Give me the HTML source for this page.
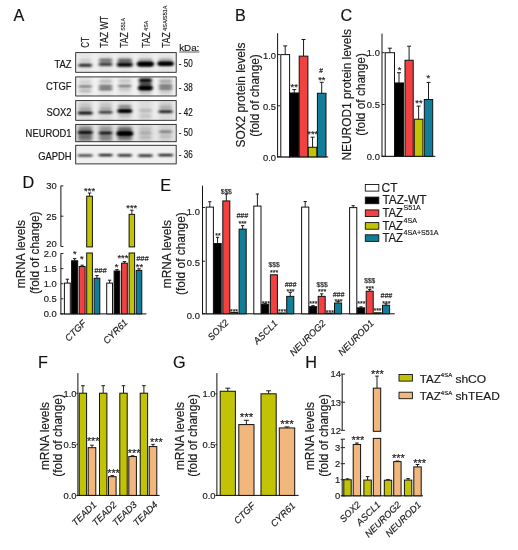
<!DOCTYPE html>
<html lang="en"><head><meta charset="utf-8"><title>Figure</title>
<style>
html,body{margin:0;padding:0;background:#fff;}
body{width:518px;height:550px;overflow:hidden;}
svg{display:block;font-family:"Liberation Sans",Arial,sans-serif;}
text{stroke:#222;stroke-width:0.18px;}
</style></head><body>
<svg width="518" height="550" viewBox="0 0 518 550">
<defs>
<filter id="b1" x="-30%" y="-100%" width="160%" height="300%"><feGaussianBlur stdDeviation="1.5 0.95"/></filter>
<filter id="b3" x="-30%" y="-150%" width="160%" height="400%"><feGaussianBlur stdDeviation="1.2 0.65"/></filter>
<filter id="b4" x="-30%" y="-150%" width="160%" height="400%"><feGaussianBlur stdDeviation="1.35 0.8"/></filter>
<filter id="b2" x="-30%" y="-100%" width="160%" height="300%"><feGaussianBlur stdDeviation="2 1.5"/></filter>
</defs>
<rect width="518" height="550" fill="#fff"/>

<text x="13.6" y="21.2" font-size="16.2" text-anchor="start" fill="#111" >A</text>
<text x="235" y="21" font-size="16.2" text-anchor="start" fill="#111" >B</text>
<text x="340.5" y="21.2" font-size="16.2" text-anchor="start" fill="#111" >C</text>
<text x="22.5" y="188" font-size="16.2" text-anchor="start" fill="#111" >D</text>
<text x="160.3" y="191" font-size="16.2" text-anchor="start" fill="#111" >E</text>
<text x="38" y="367.8" font-size="16.2" text-anchor="start" fill="#111" >F</text>
<text x="173" y="368" font-size="16.2" text-anchor="start" fill="#111" >G</text>
<text x="305.3" y="367.8" font-size="16.2" text-anchor="start" fill="#111" >H</text>
<clipPath id="c0"><rect x="75.7" y="52.6" width="100.5" height="19.7"/></clipPath>
<rect x="75.7" y="52.6" width="100.5" height="19.7" fill="#efefef"/>
<g clip-path="url(#c0)">
<rect x="78.7" y="50.6" width="13" height="23.7" fill="#000" opacity="0.04" filter="url(#b2)"/>
<rect x="99.1" y="50.6" width="13" height="23.7" fill="#000" opacity="0.04" filter="url(#b2)"/>
<rect x="118.3" y="50.6" width="13" height="23.7" fill="#000" opacity="0.04" filter="url(#b2)"/>
<rect x="138.9" y="50.6" width="13" height="23.7" fill="#000" opacity="0.04" filter="url(#b2)"/>
<rect x="159.1" y="50.6" width="13" height="23.7" fill="#000" opacity="0.04" filter="url(#b2)"/>
<rect x="78.4" y="63.65" width="13.6" height="3.1" rx="1.55" fill="#050505" opacity="0.88" filter="url(#b1)"/>
<rect x="79.2" y="59.15" width="12" height="2.5" rx="1.25" fill="#050505" opacity="0.12" filter="url(#b1)"/>
<rect x="99" y="58.45" width="13.2" height="2.9" rx="1.45" fill="#050505" opacity="0.5" filter="url(#b1)"/>
<rect x="98.8" y="62.85" width="13.6" height="3.1" rx="1.55" fill="#050505" opacity="0.75" filter="url(#b1)"/>
<rect x="99.2" y="60.25" width="12.8" height="3.5" rx="1.75" fill="#050505" opacity="0.25" filter="url(#b1)"/>
<rect x="117.6" y="58.55" width="14.4" height="3.1" rx="1.55" fill="#050505" opacity="0.55" filter="url(#b1)"/>
<rect x="116.8" y="62.75" width="16" height="4.1" rx="2.05" fill="#050505" opacity="1" filter="url(#b1)"/>
<rect x="117.8" y="60.65" width="14" height="3.5" rx="1.75" fill="#050505" opacity="0.35" filter="url(#b1)"/>
<rect x="137" y="61.75" width="16.8" height="4.7" rx="2.35" fill="#050505" opacity="1" filter="url(#b1)"/>
<rect x="137.8" y="62.35" width="15.2" height="3.5" rx="1.75" fill="#050505" opacity="0.9" filter="url(#b1)"/>
<rect x="138.4" y="58.75" width="14" height="2.5" rx="1.25" fill="#050505" opacity="0.35" filter="url(#b1)"/>
<rect x="157.6" y="61.55" width="16" height="4.3" rx="2.15" fill="#050505" opacity="1" filter="url(#b1)"/>
<rect x="158.4" y="62.15" width="14.4" height="3.1" rx="1.55" fill="#050505" opacity="0.9" filter="url(#b1)"/>
<rect x="158.6" y="58.55" width="14" height="2.5" rx="1.25" fill="#050505" opacity="0.3" filter="url(#b1)"/>
</g>
<rect x="75.7" y="52.6" width="100.5" height="19.7" fill="none" stroke="#222" stroke-width="0.9"/>
<text transform="translate(71.5 67.55) scale(1 1.07)" font-size="9.4" text-anchor="end" fill="#111">TAZ</text>
<text transform="translate(178.8 66.7) scale(1 1.07)" font-size="9.4" fill="#111" textLength="13.9" lengthAdjust="spacingAndGlyphs">- 50</text>
<clipPath id="c1"><rect x="75.7" y="76.9" width="100.5" height="19.1"/></clipPath>
<rect x="75.7" y="76.9" width="100.5" height="19.1" fill="#f1f1f1"/>
<g clip-path="url(#c1)">
<rect x="78.7" y="74.9" width="13" height="23.1" fill="#000" opacity="0.05" filter="url(#b2)"/>
<rect x="99.1" y="74.9" width="13" height="23.1" fill="#000" opacity="0.05" filter="url(#b2)"/>
<rect x="118.3" y="74.9" width="13" height="23.1" fill="#000" opacity="0.05" filter="url(#b2)"/>
<rect x="138.9" y="74.9" width="13" height="23.1" fill="#000" opacity="0.05" filter="url(#b2)"/>
<rect x="159.1" y="74.9" width="13" height="23.1" fill="#000" opacity="0.05" filter="url(#b2)"/>
<rect x="78.6" y="85.6" width="13.2" height="1.8" rx="0.9" fill="#050505" opacity="0.6" filter="url(#b4)"/>
<rect x="79.2" y="89.9" width="12" height="1.8" rx="0.9" fill="#050505" opacity="0.3" filter="url(#b4)"/>
<rect x="79.2" y="80.75" width="12" height="2.5" rx="1.25" fill="#050505" opacity="0.1" filter="url(#b1)"/>
<rect x="99.4" y="80.05" width="12.4" height="2.7" rx="1.35" fill="#050505" opacity="0.2" filter="url(#b1)"/>
<rect x="98.8" y="85" width="13.6" height="2" rx="1" fill="#050505" opacity="0.5" filter="url(#b4)"/>
<rect x="98.8" y="88.2" width="13.6" height="2" rx="1" fill="#050505" opacity="0.58" filter="url(#b4)"/>
<rect x="99.2" y="85.85" width="12.8" height="3.5" rx="1.75" fill="#050505" opacity="0.2" filter="url(#b1)"/>
<rect x="118.6" y="79.85" width="12.4" height="2.7" rx="1.35" fill="#050505" opacity="0.15" filter="url(#b1)"/>
<rect x="118.2" y="85" width="13.2" height="2" rx="1" fill="#050505" opacity="0.58" filter="url(#b4)"/>
<rect x="118.8" y="88.35" width="12" height="2.5" rx="1.25" fill="#050505" opacity="0.15" filter="url(#b1)"/>
<rect x="138.8" y="78.15" width="13.2" height="4.5" rx="2.25" fill="#050505" opacity="0.95" filter="url(#b1)"/>
<rect x="138.2" y="85.65" width="14.4" height="4.7" rx="2.35" fill="#050505" opacity="1" filter="url(#b1)"/>
<rect x="138.8" y="86.25" width="13.2" height="3.5" rx="1.75" fill="#050505" opacity="0.9" filter="url(#b1)"/>
<rect x="139.2" y="82.45" width="12.4" height="3.5" rx="1.75" fill="#050505" opacity="0.7" filter="url(#b1)"/>
<rect x="139.4" y="91.35" width="12" height="2.5" rx="1.25" fill="#050505" opacity="0.2" filter="url(#b1)"/>
<rect x="159.2" y="79.75" width="12.8" height="2.9" rx="1.45" fill="#050505" opacity="0.3" filter="url(#b1)"/>
<rect x="158.8" y="84.4" width="13.6" height="2" rx="1" fill="#050505" opacity="0.55" filter="url(#b4)"/>
<rect x="158.8" y="87.8" width="13.6" height="2" rx="1" fill="#050505" opacity="0.55" filter="url(#b4)"/>
<rect x="159.2" y="85.25" width="12.8" height="3.5" rx="1.75" fill="#050505" opacity="0.2" filter="url(#b1)"/>
<rect x="159.6" y="90.75" width="12" height="2.5" rx="1.25" fill="#050505" opacity="0.12" filter="url(#b1)"/>
</g>
<rect x="75.7" y="76.9" width="100.5" height="19.1" fill="none" stroke="#222" stroke-width="0.9"/>
<text transform="translate(71.5 90.2) scale(1 1.07)" font-size="9.4" text-anchor="end" fill="#111">CTGF</text>
<text transform="translate(178.8 90.6) scale(1 1.07)" font-size="9.4" fill="#111" textLength="13.9" lengthAdjust="spacingAndGlyphs">- 38</text>
<clipPath id="c2"><rect x="75.7" y="100.6" width="100.5" height="19.7"/></clipPath>
<rect x="75.7" y="100.6" width="100.5" height="19.7" fill="#ececec"/>
<g clip-path="url(#c2)">
<rect x="78.7" y="98.6" width="13" height="23.7" fill="#000" opacity="0.07" filter="url(#b2)"/>
<rect x="99.1" y="98.6" width="13" height="23.7" fill="#000" opacity="0.07" filter="url(#b2)"/>
<rect x="118.3" y="98.6" width="13" height="23.7" fill="#000" opacity="0.07" filter="url(#b2)"/>
<rect x="138.9" y="98.6" width="13" height="23.7" fill="#000" opacity="0.07" filter="url(#b2)"/>
<rect x="159.1" y="98.6" width="13" height="23.7" fill="#000" opacity="0.07" filter="url(#b2)"/>
<rect x="77.8" y="111.6" width="14.8" height="3" rx="1.5" fill="#050505" opacity="1" filter="url(#b4)"/>
<rect x="78.6" y="107.45" width="13.2" height="2.7" rx="1.35" fill="#050505" opacity="0.3" filter="url(#b1)"/>
<rect x="78.8" y="103.55" width="12.8" height="2.9" rx="1.45" fill="#050505" opacity="0.12" filter="url(#b1)"/>
<rect x="98.8" y="111.05" width="13.6" height="2.5" rx="1.25" fill="#050505" opacity="0.85" filter="url(#b4)"/>
<rect x="99.4" y="107.25" width="12.4" height="2.7" rx="1.35" fill="#050505" opacity="0.28" filter="url(#b1)"/>
<rect x="99.4" y="103.35" width="12.4" height="2.9" rx="1.45" fill="#050505" opacity="0.12" filter="url(#b1)"/>
<rect x="117.4" y="109.05" width="14.8" height="3.9" rx="1.95" fill="#050505" opacity="1" filter="url(#b1)"/>
<rect x="118.4" y="109.75" width="12.8" height="2.5" rx="1.25" fill="#050505" opacity="0.5" filter="url(#b1)"/>
<rect x="118.2" y="105.05" width="13.2" height="3.1" rx="1.55" fill="#050505" opacity="0.4" filter="url(#b1)"/>
<rect x="118.4" y="114.15" width="12.8" height="2.9" rx="1.45" fill="#050505" opacity="0.15" filter="url(#b1)"/>
<rect x="139" y="108.85" width="12.8" height="3.5" rx="1.75" fill="#050505" opacity="0.16" filter="url(#b1)"/>
<rect x="139.4" y="114.25" width="12" height="3.5" rx="1.75" fill="#050505" opacity="0.1" filter="url(#b1)"/>
<rect x="158.6" y="110.3" width="14" height="2.8" rx="1.4" fill="#050505" opacity="0.92" filter="url(#b4)"/>
<rect x="159.2" y="106.25" width="12.8" height="2.7" rx="1.35" fill="#050505" opacity="0.25" filter="url(#b1)"/>
<rect x="159.4" y="103.25" width="12.4" height="2.7" rx="1.35" fill="#050505" opacity="0.1" filter="url(#b1)"/>
</g>
<rect x="75.7" y="100.6" width="100.5" height="19.7" fill="none" stroke="#222" stroke-width="0.9"/>
<text transform="translate(71.5 115.7) scale(1 1.07)" font-size="9.4" text-anchor="end" fill="#111">SOX2</text>
<text transform="translate(178.8 115.5) scale(1 1.07)" font-size="9.4" fill="#111" textLength="13.9" lengthAdjust="spacingAndGlyphs">- 42</text>
<clipPath id="c3"><rect x="75.7" y="124.4" width="100.5" height="17.3"/></clipPath>
<rect x="75.7" y="124.4" width="100.5" height="17.3" fill="#e4e4e4"/>
<g clip-path="url(#c3)">
<rect x="78.7" y="122.4" width="13" height="21.3" fill="#000" opacity="0.16" filter="url(#b2)"/>
<rect x="99.1" y="122.4" width="13" height="21.3" fill="#000" opacity="0.16" filter="url(#b2)"/>
<rect x="118.3" y="122.4" width="13" height="21.3" fill="#000" opacity="0.16" filter="url(#b2)"/>
<rect x="138.9" y="122.4" width="13" height="21.3" fill="#000" opacity="0.07" filter="url(#b2)"/>
<rect x="159.1" y="122.4" width="13" height="21.3" fill="#000" opacity="0.07" filter="url(#b2)"/>
<rect x="77.6" y="130.55" width="15.2" height="3.9" rx="1.95" fill="#050505" opacity="0.95" filter="url(#b1)"/>
<rect x="78" y="135.35" width="14.4" height="2.9" rx="1.45" fill="#050505" opacity="0.5" filter="url(#b1)"/>
<rect x="78.2" y="138.35" width="14" height="2.5" rx="1.25" fill="#050505" opacity="0.35" filter="url(#b1)"/>
<rect x="78.2" y="126.95" width="14" height="2.9" rx="1.45" fill="#050505" opacity="0.35" filter="url(#b1)"/>
<rect x="98.8" y="131.35" width="13.6" height="3.5" rx="1.75" fill="#050505" opacity="0.9" filter="url(#b1)"/>
<rect x="99" y="135.55" width="13.2" height="2.9" rx="1.45" fill="#050505" opacity="0.35" filter="url(#b1)"/>
<rect x="99.2" y="138.35" width="12.8" height="2.5" rx="1.25" fill="#050505" opacity="0.25" filter="url(#b1)"/>
<rect x="99.2" y="127.15" width="12.8" height="2.9" rx="1.45" fill="#050505" opacity="0.25" filter="url(#b1)"/>
<rect x="116.6" y="130.95" width="16.4" height="5.1" rx="2.55" fill="#050505" opacity="1" filter="url(#b1)"/>
<rect x="117.6" y="131.75" width="14.4" height="3.5" rx="1.75" fill="#050505" opacity="0.9" filter="url(#b1)"/>
<rect x="117.4" y="127.45" width="14.8" height="3.1" rx="1.55" fill="#050505" opacity="0.55" filter="url(#b1)"/>
<rect x="117.4" y="136.45" width="14.8" height="3.1" rx="1.55" fill="#050505" opacity="0.5" filter="url(#b1)"/>
<rect x="139.2" y="131.45" width="12.4" height="3.1" rx="1.55" fill="#050505" opacity="0.22" filter="url(#b1)"/>
<rect x="139.2" y="135.95" width="12.4" height="2.9" rx="1.45" fill="#050505" opacity="0.14" filter="url(#b1)"/>
<rect x="139.4" y="127.55" width="12" height="2.9" rx="1.45" fill="#050505" opacity="0.1" filter="url(#b1)"/>
<rect x="159.2" y="130.55" width="12.8" height="2.5" rx="1.25" fill="#050505" opacity="0.45" filter="url(#b1)"/>
<rect x="159.4" y="134.95" width="12.4" height="2.9" rx="1.45" fill="#050505" opacity="0.12" filter="url(#b1)"/>
</g>
<rect x="75.7" y="124.4" width="100.5" height="17.3" fill="none" stroke="#222" stroke-width="0.9"/>
<text transform="translate(71.5 137.4) scale(1 1.07)" font-size="9.4" text-anchor="end" fill="#111">NEUROD1</text>
<text transform="translate(178.8 135.7) scale(1 1.07)" font-size="9.4" fill="#111" textLength="13.9" lengthAdjust="spacingAndGlyphs">- 50</text>
<clipPath id="c4"><rect x="75.7" y="145.3" width="100.5" height="18.6"/></clipPath>
<rect x="75.7" y="145.3" width="100.5" height="18.6" fill="#f0f0f0"/>
<g clip-path="url(#c4)">
<rect x="77.8" y="154.55" width="14.8" height="1.9" rx="0.95" fill="#050505" opacity="0.92" filter="url(#b4)"/>
<rect x="98.6" y="154" width="14" height="2.2" rx="1.1" fill="#050505" opacity="0.97" filter="url(#b4)"/>
<rect x="117.6" y="154.2" width="14.4" height="2.2" rx="1.1" fill="#050505" opacity="0.97" filter="url(#b4)"/>
<rect x="138.2" y="154.6" width="14.4" height="2.2" rx="1.1" fill="#050505" opacity="0.97" filter="url(#b4)"/>
<rect x="158.2" y="154" width="14.8" height="2.2" rx="1.1" fill="#050505" opacity="0.97" filter="url(#b4)"/>
</g>
<rect x="75.7" y="145.3" width="100.5" height="18.6" fill="none" stroke="#222" stroke-width="0.9"/>
<text transform="translate(71.5 159.5) scale(1 1.07)" font-size="9.4" text-anchor="end" fill="#111">GAPDH</text>
<text transform="translate(178.8 157.9) scale(1 1.07)" font-size="9.4" fill="#111" textLength="13.9" lengthAdjust="spacingAndGlyphs">- 36</text>
<text x="179.2" y="51" font-size="9.8" text-anchor="start" fill="#1a1a1a" stroke="#1a1a1a" stroke-width="0.15">kDa:</text>
<path d="M179.2 52L199.4 52" stroke="#111" stroke-width="0.7" fill="none"/>
<text transform="translate(88.5 47.8) rotate(-90)" font-size="10" fill="#1a1a1a" textLength="10.8" lengthAdjust="spacingAndGlyphs">CT</text>
<text transform="translate(108.2 47.8) rotate(-90)" font-size="10" fill="#1a1a1a" textLength="31.8" lengthAdjust="spacingAndGlyphs">TAZ WT</text>
<text transform="translate(127.5 47.8) rotate(-90)" font-size="10" fill="#1a1a1a" textLength="15.7" lengthAdjust="spacingAndGlyphs">TAZ</text>
<text transform="translate(124.5 30.7) rotate(-90)" font-size="5" fill="#444" textLength="12.6" lengthAdjust="spacingAndGlyphs">S51A</text>
<text transform="translate(150 47.8) rotate(-90)" font-size="10" fill="#1a1a1a" textLength="15.7" lengthAdjust="spacingAndGlyphs">TAZ</text>
<text transform="translate(148.2 30.7) rotate(-90)" font-size="5" fill="#444" textLength="9.8" lengthAdjust="spacingAndGlyphs">4SA</text>
<text transform="translate(169.8 47.8) rotate(-90)" font-size="10" fill="#1a1a1a" textLength="15.7" lengthAdjust="spacingAndGlyphs">TAZ</text>
<text transform="translate(166.8 30.7) rotate(-90)" font-size="5" fill="#444" textLength="25.0" lengthAdjust="spacingAndGlyphs">4SA/S51A</text>
<text transform="translate(245.2 95) rotate(-90)" font-size="11.9" text-anchor="middle" fill="#1a1a1a" >SOX2 protein levels</text>
<text transform="translate(259.2 95.5) rotate(-90)" font-size="11.9" text-anchor="middle" fill="#1a1a1a" >(fold of change)</text>
<path d="M277.6 33.2L277.6 157.4" stroke="#111" stroke-width="1" fill="none"/>
<path d="M277.6 54.6L280.2 54.6" stroke="#111" stroke-width="0.9" fill="none"/>
<text x="276" y="58.95" font-size="9.4" text-anchor="end" fill="#1a1a1a" >1.0</text>
<path d="M277.6 105.75L280.2 105.75" stroke="#111" stroke-width="0.9" fill="none"/>
<text x="276" y="110.1" font-size="9.4" text-anchor="end" fill="#1a1a1a" >0.5</text>
<path d="M277.6 156.9L280.2 156.9" stroke="#111" stroke-width="0.9" fill="none"/>
<text x="276" y="161.25" font-size="9.4" text-anchor="end" fill="#1a1a1a" >0.0</text>
<path d="M277.1 156.9L328.2 156.9" stroke="#111" stroke-width="1" fill="none"/>
<path d="M285.2 54.6V45.9M283.2 45.9H287.2" stroke="#111" stroke-width="0.95" fill="none"/>
<rect x="280.8" y="54.6" width="8.8" height="102.3" fill="#fff" stroke="#111" stroke-width="1.0"/>
<path d="M294.25 92.96V89.6M292.25 89.6H296.25" stroke="#111" stroke-width="0.95" fill="none"/>
<rect x="289.6" y="92.96" width="9.3" height="63.94" fill="#000" stroke="#111" stroke-width="1.0"/>
<path d="M303.55 56.13V39.5M301.55 39.5H305.55" stroke="#111" stroke-width="0.95" fill="none"/>
<rect x="299.2" y="56.13" width="8.7" height="100.77" fill="#f14141" stroke="#111" stroke-width="1.0"/>
<path d="M312.55 147.28V137.2M310.55 137.2H314.55" stroke="#111" stroke-width="0.95" fill="none"/>
<rect x="308.3" y="147.28" width="8.5" height="9.62" fill="#c3c306" stroke="#111" stroke-width="1.0"/>
<path d="M321.7 93.27V82.3M319.7 82.3H323.7" stroke="#111" stroke-width="0.95" fill="none"/>
<rect x="317.4" y="93.27" width="8.6" height="63.63" fill="#117d99" stroke="#111" stroke-width="1.0"/>
<text x="294.2" y="89.6" font-size="9.4" text-anchor="middle" fill="#222" >**</text>
<text x="312.8" y="136.9" font-size="9.4" text-anchor="middle" fill="#222" >***</text>
<text x="321.8" y="82.9" font-size="9.4" text-anchor="middle" fill="#222" >**</text>
<text x="321.2" y="72.98" font-size="6.6" text-anchor="middle" fill="#222" >#</text>
<text transform="translate(351.2 94.8) rotate(-90)" font-size="11.9" text-anchor="middle" fill="#1a1a1a" >NEUROD1 protein levels</text>
<text transform="translate(365 94.4) rotate(-90)" font-size="11.9" text-anchor="middle" fill="#1a1a1a" >(fold of change)</text>
<path d="M382 33.6L382 156.8" stroke="#111" stroke-width="1" fill="none"/>
<path d="M382 52.7L384.6 52.7" stroke="#111" stroke-width="0.9" fill="none"/>
<text x="379.9" y="56.35" font-size="9.4" text-anchor="end" fill="#1a1a1a" >1.0</text>
<path d="M382 104.5L384.6 104.5" stroke="#111" stroke-width="0.9" fill="none"/>
<text x="379.9" y="108.15" font-size="9.4" text-anchor="end" fill="#1a1a1a" >0.5</text>
<path d="M382 156.3L384.6 156.3" stroke="#111" stroke-width="0.9" fill="none"/>
<text x="379.9" y="159.95" font-size="9.4" text-anchor="end" fill="#1a1a1a" >0.0</text>
<path d="M381.5 156.3L435.4 156.3" stroke="#111" stroke-width="1" fill="none"/>
<path d="M389.85 52.7V48.2M387.85 48.2H391.85" stroke="#111" stroke-width="0.95" fill="none"/>
<rect x="385.2" y="52.7" width="9.3" height="103.6" fill="#fff" stroke="#111" stroke-width="1.0"/>
<path d="M399 82.95V72.7M397 72.7H401" stroke="#111" stroke-width="0.95" fill="none"/>
<rect x="394.5" y="82.95" width="9" height="73.35" fill="#000" stroke="#111" stroke-width="1.0"/>
<path d="M409.1 60.26V46.2M407.1 46.2H411.1" stroke="#111" stroke-width="0.95" fill="none"/>
<rect x="405" y="60.26" width="8.2" height="96.04" fill="#f14141" stroke="#111" stroke-width="1.0"/>
<path d="M418.6 119.21V106.1M416.6 106.1H420.6" stroke="#111" stroke-width="0.95" fill="none"/>
<rect x="414.3" y="119.21" width="8.6" height="37.09" fill="#c3c306" stroke="#111" stroke-width="1.0"/>
<path d="M428.5 99.53V82.4M426.5 82.4H430.5" stroke="#111" stroke-width="0.95" fill="none"/>
<rect x="424.3" y="99.53" width="8.4" height="56.77" fill="#117d99" stroke="#111" stroke-width="1.0"/>
<text x="399.6" y="72.6" font-size="9.4" text-anchor="middle" fill="#222" >*</text>
<text x="419" y="106" font-size="9.4" text-anchor="middle" fill="#222" >**</text>
<text x="428.4" y="81" font-size="9.4" text-anchor="middle" fill="#222" >*</text>
<rect x="365.3" y="184.5" width="13.5" height="6.6" fill="#fff" stroke="#111" stroke-width="0.9"/>
<rect x="365.3" y="197.1" width="13.5" height="6.6" fill="#000" stroke="#111" stroke-width="0.9"/>
<rect x="365.3" y="209.9" width="13.5" height="6.6" fill="#f14141" stroke="#111" stroke-width="0.9"/>
<rect x="365.3" y="222.6" width="13.5" height="6.6" fill="#c3c306" stroke="#111" stroke-width="0.9"/>
<rect x="365.3" y="234.8" width="13.5" height="6.6" fill="#117d99" stroke="#111" stroke-width="0.9"/>
<text x="381.6" y="191.7" font-size="12" text-anchor="start" fill="#1a1a1a" >CT</text>
<text x="382.4" y="204.4" font-size="12" text-anchor="start" fill="#1a1a1a" textLength="44.2" lengthAdjust="spacingAndGlyphs">TAZ-WT</text>
<text x="382.4" y="217" font-size="12" fill="#1a1a1a"><tspan textLength="20.6" lengthAdjust="spacingAndGlyphs">TAZ</tspan><tspan dy="-6.8" dx="0.5" font-size="7.1">S51A</tspan></text>
<text x="382.4" y="229.6" font-size="12" fill="#1a1a1a"><tspan textLength="20.6" lengthAdjust="spacingAndGlyphs">TAZ</tspan><tspan dy="-6.8" dx="0.5" font-size="7.1">4SA</tspan></text>
<text x="382.4" y="241.8" font-size="12" fill="#1a1a1a"><tspan textLength="20.6" lengthAdjust="spacingAndGlyphs">TAZ</tspan><tspan dy="-6.8" dx="0.5" font-size="7.1">4SA+S51A</tspan></text>
<text transform="translate(24.6 254.2) rotate(-90)" font-size="11.9" text-anchor="middle" fill="#1a1a1a" >mRNA levels</text>
<text transform="translate(38.6 252.8) rotate(-90)" font-size="11.9" text-anchor="middle" fill="#1a1a1a" >(fold of change)</text>
<path d="M60.9 185.8L60.9 246.5" stroke="#111" stroke-width="1" fill="none"/>
<path d="M60.9 185.9L63.4 185.9" stroke="#111" stroke-width="0.9" fill="none"/>
<text x="56.7" y="189.2" font-size="9.4" text-anchor="end" fill="#1a1a1a" >30</text>
<path d="M60.9 216.2L63.4 216.2" stroke="#111" stroke-width="0.9" fill="none"/>
<text x="56.7" y="219.5" font-size="9.4" text-anchor="end" fill="#1a1a1a" >25</text>
<path d="M60.9 246.5L63.4 246.5" stroke="#111" stroke-width="0.9" fill="none"/>
<text x="56.7" y="247.1" font-size="9.4" text-anchor="end" fill="#1a1a1a" >20</text>
<path d="M60.9 253.3L60.9 314.4" stroke="#111" stroke-width="1" fill="none"/>
<path d="M60.9 253.5L63.4 253.5" stroke="#111" stroke-width="0.9" fill="none"/>
<text x="56.7" y="256.8" font-size="9.4" text-anchor="end" fill="#1a1a1a" >2.0</text>
<path d="M60.9 268.6L63.4 268.6" stroke="#111" stroke-width="0.9" fill="none"/>
<text x="56.7" y="271.9" font-size="9.4" text-anchor="end" fill="#1a1a1a" >1.5</text>
<path d="M60.9 283.7L63.4 283.7" stroke="#111" stroke-width="0.9" fill="none"/>
<text x="56.7" y="287" font-size="9.4" text-anchor="end" fill="#1a1a1a" >1.0</text>
<path d="M60.9 298.8L63.4 298.8" stroke="#111" stroke-width="0.9" fill="none"/>
<text x="56.7" y="302.1" font-size="9.4" text-anchor="end" fill="#1a1a1a" >0.5</text>
<path d="M60.9 313.9L63.4 313.9" stroke="#111" stroke-width="0.9" fill="none"/>
<text x="56.7" y="317.2" font-size="9.4" text-anchor="end" fill="#1a1a1a" >0.0</text>
<path d="M60.4 313.9L146.4 313.9" stroke="#111" stroke-width="1" fill="none"/>
<path d="M67.35 283.1V279.2M65.65 279.2H69.05" stroke="#111" stroke-width="0.95" fill="none"/>
<rect x="64.4" y="283.1" width="5.9" height="30.8" fill="#fff" stroke="#111" stroke-width="1.0"/>
<path d="M74.65 260.75V258.6M72.95 258.6H76.35" stroke="#111" stroke-width="0.95" fill="none"/>
<rect x="71.6" y="260.75" width="6.1" height="53.15" fill="#000" stroke="#111" stroke-width="1.0"/>
<path d="M82.15 266.49V265.2M80.45 265.2H83.85" stroke="#111" stroke-width="0.95" fill="none"/>
<rect x="79.2" y="266.49" width="5.9" height="47.41" fill="#f14141" stroke="#111" stroke-width="1.0"/>
<path d="M89.55 196.2V193M87.85 193H91.25" stroke="#111" stroke-width="0.95" fill="none"/>
<rect x="86.7" y="196.2" width="5.7" height="50.7" fill="#c3c306" stroke="#111" stroke-width="1.0"/>
<rect x="86.7" y="253" width="5.7" height="60.9" fill="#c3c306" stroke="#111" stroke-width="1.0"/>
<path d="M96.95 278.26V275.6M95.25 275.6H98.65" stroke="#111" stroke-width="0.95" fill="none"/>
<rect x="94.1" y="278.26" width="5.7" height="35.64" fill="#117d99" stroke="#111" stroke-width="1.0"/>
<path d="M109.6 283.1V280.2M107.9 280.2H111.3" stroke="#111" stroke-width="0.95" fill="none"/>
<rect x="106.7" y="283.1" width="5.8" height="30.8" fill="#fff" stroke="#111" stroke-width="1.0"/>
<path d="M116.95 271.02V269.6M115.25 269.6H118.65" stroke="#111" stroke-width="0.95" fill="none"/>
<rect x="114.1" y="271.02" width="5.7" height="42.88" fill="#000" stroke="#111" stroke-width="1.0"/>
<path d="M124.45 263.16V261.6M122.75 261.6H126.15" stroke="#111" stroke-width="0.95" fill="none"/>
<rect x="121.6" y="263.16" width="5.7" height="50.74" fill="#f14141" stroke="#111" stroke-width="1.0"/>
<path d="M131.85 214.38V210.2M130.15 210.2H133.55" stroke="#111" stroke-width="0.95" fill="none"/>
<rect x="129.1" y="214.38" width="5.5" height="32.52" fill="#c3c306" stroke="#111" stroke-width="1.0"/>
<rect x="129.1" y="253" width="5.5" height="60.9" fill="#c3c306" stroke="#111" stroke-width="1.0"/>
<path d="M139 270.41V268.8M137.3 268.8H140.7" stroke="#111" stroke-width="0.95" fill="none"/>
<rect x="136.2" y="270.41" width="5.6" height="43.49" fill="#117d99" stroke="#111" stroke-width="1.0"/>
<text x="74.8" y="257.4" font-size="9.4" text-anchor="middle" fill="#222" >*</text>
<text x="81.8" y="262.1" font-size="9.4" text-anchor="middle" fill="#222" >*</text>
<text x="89.6" y="193.9" font-size="9.4" text-anchor="middle" fill="#222" >***</text>
<text x="100.4" y="273.46" font-size="7.4" text-anchor="middle" fill="#222" font-style="italic">###</text>
<text x="116.6" y="270.3" font-size="9.4" text-anchor="middle" fill="#222" >*</text>
<text x="122.9" y="261.2" font-size="9.4" text-anchor="middle" fill="#222" >***</text>
<text x="131.8" y="210.9" font-size="9.4" text-anchor="middle" fill="#222" >***</text>
<text x="142.4" y="261.36" font-size="7.4" text-anchor="middle" fill="#222" font-style="italic">###</text>
<text x="139.5" y="270.3" font-size="9.4" text-anchor="middle" fill="#222" >**</text>
<text transform="translate(86.7 323.9) rotate(-45)" font-size="9.4" text-anchor="end" font-style="italic" fill="#1a1a1a" stroke="#1a1a1a" stroke-width="0.2">CTGF</text>
<text transform="translate(128.3 323.1) rotate(-45)" font-size="9.4" text-anchor="end" font-style="italic" fill="#1a1a1a" stroke="#1a1a1a" stroke-width="0.2">CYR61</text>
<text transform="translate(170.8 254.2) rotate(-90)" font-size="11.9" text-anchor="middle" fill="#1a1a1a" >mRNA levels</text>
<text transform="translate(184.8 253.6) rotate(-90)" font-size="11.9" text-anchor="middle" fill="#1a1a1a" >(fold of change)</text>
<path d="M202.5 185.7L202.5 314.3" stroke="#111" stroke-width="1" fill="none"/>
<path d="M202.5 207.5L205.1 207.5" stroke="#111" stroke-width="0.9" fill="none"/>
<text x="199.9" y="215.25" font-size="9.4" text-anchor="end" fill="#1a1a1a" >1.0</text>
<path d="M202.5 261.2L205.1 261.2" stroke="#111" stroke-width="0.9" fill="none"/>
<text x="199.9" y="266.45" font-size="9.4" text-anchor="end" fill="#1a1a1a" >0.5</text>
<path d="M202.5 313.8L205.1 313.8" stroke="#111" stroke-width="0.9" fill="none"/>
<text x="199.9" y="318.65" font-size="9.4" text-anchor="end" fill="#1a1a1a" >0.0</text>
<path d="M202.1 313.8L394.8 313.8" stroke="#111" stroke-width="1" fill="none"/>
<path d="M209.8 207.1V201.7M208.2 201.7H211.4" stroke="#111" stroke-width="0.95" fill="none"/>
<rect x="206.2" y="207.1" width="7.2" height="106.7" fill="#fff" stroke="#111" stroke-width="1.0"/>
<path d="M217.55 243.52V237.3M215.95 237.3H219.15" stroke="#111" stroke-width="0.95" fill="none"/>
<rect x="213.9" y="243.52" width="7.3" height="70.28" fill="#000" stroke="#111" stroke-width="1.0"/>
<path d="M226.3 200.94V194.1M224.7 194.1H227.9" stroke="#111" stroke-width="0.95" fill="none"/>
<rect x="222.8" y="200.94" width="7" height="112.86" fill="#f14141" stroke="#111" stroke-width="1.0"/>
<rect x="230.8" y="312.57" width="7" height="1.23" fill="#c3c306" stroke="#111" stroke-width="1.0"/>
<path d="M242.65 229.16V225.6M241.05 225.6H244.25" stroke="#111" stroke-width="0.95" fill="none"/>
<rect x="239.1" y="229.16" width="7.1" height="84.64" fill="#117d99" stroke="#111" stroke-width="1.0"/>
<path d="M257.4 206.07V194M255.8 194H259" stroke="#111" stroke-width="0.95" fill="none"/>
<rect x="253.8" y="206.07" width="7.2" height="107.73" fill="#fff" stroke="#111" stroke-width="1.0"/>
<path d="M265.15 304.36V303.4M263.55 303.4H266.75" stroke="#111" stroke-width="0.95" fill="none"/>
<rect x="261.5" y="304.36" width="7.3" height="9.44" fill="#000" stroke="#111" stroke-width="1.0"/>
<rect x="270.4" y="274.81" width="7" height="38.99" fill="#f14141" stroke="#111" stroke-width="1.0"/>
<rect x="278.4" y="312.98" width="7" height="0.82" fill="#c3c306" stroke="#111" stroke-width="1.0"/>
<path d="M290.25 296.36V292.4M288.65 292.4H291.85" stroke="#111" stroke-width="0.95" fill="none"/>
<rect x="286.7" y="296.36" width="7.1" height="17.44" fill="#117d99" stroke="#111" stroke-width="1.0"/>
<path d="M305.2 207.1V201.5M303.6 201.5H306.8" stroke="#111" stroke-width="0.95" fill="none"/>
<rect x="301.6" y="207.1" width="7.2" height="106.7" fill="#fff" stroke="#111" stroke-width="1.0"/>
<path d="M312.95 306.62V305.6M311.35 305.6H314.55" stroke="#111" stroke-width="0.95" fill="none"/>
<rect x="309.3" y="306.62" width="7.3" height="7.18" fill="#000" stroke="#111" stroke-width="1.0"/>
<path d="M321.7 296.36V293.8M320.1 293.8H323.3" stroke="#111" stroke-width="0.95" fill="none"/>
<rect x="318.2" y="296.36" width="7" height="17.44" fill="#f14141" stroke="#111" stroke-width="1.0"/>
<rect x="326.2" y="313.18" width="7" height="0.62" fill="#c3c306" stroke="#111" stroke-width="1.0"/>
<path d="M338.05 303.03V301.4M336.45 301.4H339.65" stroke="#111" stroke-width="0.95" fill="none"/>
<rect x="334.5" y="303.03" width="7.1" height="10.77" fill="#117d99" stroke="#111" stroke-width="1.0"/>
<path d="M353.2 207.61V205.7M351.6 205.7H354.8" stroke="#111" stroke-width="0.95" fill="none"/>
<rect x="349.6" y="207.61" width="7.2" height="106.19" fill="#fff" stroke="#111" stroke-width="1.0"/>
<path d="M360.95 307.85V306.8M359.35 306.8H362.55" stroke="#111" stroke-width="0.95" fill="none"/>
<rect x="357.3" y="307.85" width="7.3" height="5.95" fill="#000" stroke="#111" stroke-width="1.0"/>
<path d="M369.7 291.23V289.6M368.1 289.6H371.3" stroke="#111" stroke-width="0.95" fill="none"/>
<rect x="366.2" y="291.23" width="7" height="22.57" fill="#f14141" stroke="#111" stroke-width="1.0"/>
<rect x="374.2" y="312.77" width="7" height="1.03" fill="#c3c306" stroke="#111" stroke-width="1.0"/>
<path d="M386.05 305.28V303.8M384.45 303.8H387.65" stroke="#111" stroke-width="0.95" fill="none"/>
<rect x="382.5" y="305.28" width="7.1" height="8.52" fill="#117d99" stroke="#111" stroke-width="1.0"/>
<text x="218" y="238.2" font-size="7.0" text-anchor="middle" fill="#222" >**</text>
<text x="226.3" y="193.68" font-size="6.6" text-anchor="middle" fill="#222" >$$$</text>
<text x="234" y="313.6" font-size="7.0" text-anchor="middle" fill="#222" >***</text>
<text x="242.5" y="225.6" font-size="7.0" text-anchor="middle" fill="#222" >***</text>
<text x="242.3" y="218.42" font-size="7.0" text-anchor="middle" fill="#222" font-style="italic">###</text>
<text x="265.8" y="305.6" font-size="7.0" text-anchor="middle" fill="#222" >***</text>
<text x="274.1" y="274.5" font-size="7.0" text-anchor="middle" fill="#222" >***</text>
<text x="274.1" y="267.08" font-size="6.6" text-anchor="middle" fill="#222" >$$$</text>
<text x="282.2" y="314.2" font-size="7.0" text-anchor="middle" fill="#222" >***</text>
<text x="290.5" y="294.3" font-size="7.0" text-anchor="middle" fill="#222" >***</text>
<text x="290.5" y="287.12" font-size="7.0" text-anchor="middle" fill="#222" font-style="italic">###</text>
<text x="313.4" y="306.4" font-size="7.0" text-anchor="middle" fill="#222" >***</text>
<text x="322.1" y="294.4" font-size="7.0" text-anchor="middle" fill="#222" >***</text>
<text x="322.1" y="286.88" font-size="6.6" text-anchor="middle" fill="#222" >$$$</text>
<text x="329.9" y="314.5" font-size="7.0" text-anchor="middle" fill="#222" >***</text>
<text x="338.5" y="303.5" font-size="7.0" text-anchor="middle" fill="#222" >***</text>
<text x="338.5" y="296.62" font-size="7.0" text-anchor="middle" fill="#222" font-style="italic">###</text>
<text x="361.3" y="305.5" font-size="7.0" text-anchor="middle" fill="#222" >***</text>
<text x="369.8" y="291.4" font-size="7.0" text-anchor="middle" fill="#222" >***</text>
<text x="369.8" y="282.98" font-size="6.6" text-anchor="middle" fill="#222" >$$$</text>
<text x="377.5" y="312.8" font-size="7.0" text-anchor="middle" fill="#222" >***</text>
<text x="386.4" y="305.5" font-size="7.0" text-anchor="middle" fill="#222" >***</text>
<text x="386.4" y="297.62" font-size="7.0" text-anchor="middle" fill="#222" font-style="italic">###</text>
<text transform="translate(229.1 323.2) rotate(-45)" font-size="9.4" text-anchor="end" font-style="italic" fill="#1a1a1a" stroke="#1a1a1a" stroke-width="0.2">SOX2</text>
<text transform="translate(278.3 323.8) rotate(-45)" font-size="9.4" text-anchor="end" font-style="italic" fill="#1a1a1a" stroke="#1a1a1a" stroke-width="0.2">ASCL1</text>
<text transform="translate(326.3 323.8) rotate(-45)" font-size="9.4" text-anchor="end" font-style="italic" fill="#1a1a1a" stroke="#1a1a1a" stroke-width="0.2">NEUROG2</text>
<text transform="translate(374.5 323.8) rotate(-45)" font-size="9.4" text-anchor="end" font-style="italic" fill="#1a1a1a" stroke="#1a1a1a" stroke-width="0.2">NEUROD1</text>
<text transform="translate(48.5 436) rotate(-90)" font-size="11.9" text-anchor="middle" fill="#1a1a1a" >mRNA levels</text>
<text transform="translate(62.1 435.4) rotate(-90)" font-size="11.9" text-anchor="middle" fill="#1a1a1a" >(fold of change)</text>
<path d="M77.9 373.1L77.9 495.9" stroke="#111" stroke-width="1" fill="none"/>
<path d="M77.9 393.2L76.3 393.2" stroke="#111" stroke-width="0.9" fill="none"/>
<text x="76.5" y="396.55" font-size="9.4" text-anchor="end" fill="#1a1a1a" >1.0</text>
<path d="M77.9 444.3L76.3 444.3" stroke="#111" stroke-width="0.9" fill="none"/>
<text x="76.5" y="447.65" font-size="9.4" text-anchor="end" fill="#1a1a1a" >0.5</text>
<path d="M77.9 495.4L76.3 495.4" stroke="#111" stroke-width="0.9" fill="none"/>
<text x="76.5" y="498.75" font-size="9.4" text-anchor="end" fill="#1a1a1a" >0.0</text>
<path d="M77.3 495.4L159.6 495.4" stroke="#111" stroke-width="1" fill="none"/>
<path d="M82.9 393.2V385.7M81.1 385.7H84.7" stroke="#111" stroke-width="0.95" fill="none"/>
<rect x="79.2" y="393.2" width="7.4" height="102.2" fill="#c3c306" stroke="#111" stroke-width="1.0"/>
<path d="M92 447.67V445.2M90.2 445.2H93.8" stroke="#111" stroke-width="0.95" fill="none"/>
<rect x="88.2" y="447.67" width="7.6" height="47.73" fill="#f1b77c" stroke="#111" stroke-width="1.0"/>
<path d="M103.2 393.2V385.7M101.4 385.7H105" stroke="#111" stroke-width="0.95" fill="none"/>
<rect x="99.5" y="393.2" width="7.4" height="102.2" fill="#c3c306" stroke="#111" stroke-width="1.0"/>
<path d="M112.3 476.7V475.6M110.5 475.6H114.1" stroke="#111" stroke-width="0.95" fill="none"/>
<rect x="108.5" y="476.7" width="7.6" height="18.7" fill="#f1b77c" stroke="#111" stroke-width="1.0"/>
<path d="M123.5 393.2V385.7M121.7 385.7H125.3" stroke="#111" stroke-width="0.95" fill="none"/>
<rect x="119.8" y="393.2" width="7.4" height="102.2" fill="#c3c306" stroke="#111" stroke-width="1.0"/>
<path d="M132.6 456.56V455.8M130.8 455.8H134.4" stroke="#111" stroke-width="0.95" fill="none"/>
<rect x="128.8" y="456.56" width="7.6" height="38.84" fill="#f1b77c" stroke="#111" stroke-width="1.0"/>
<path d="M143.9 393.2V385.7M142.1 385.7H145.7" stroke="#111" stroke-width="0.95" fill="none"/>
<rect x="140.2" y="393.2" width="7.4" height="102.2" fill="#c3c306" stroke="#111" stroke-width="1.0"/>
<path d="M153 446.55V444.4M151.2 444.4H154.8" stroke="#111" stroke-width="0.95" fill="none"/>
<rect x="149.2" y="446.55" width="7.6" height="48.85" fill="#f1b77c" stroke="#111" stroke-width="1.0"/>
<text x="93.2" y="444.55" font-size="10.8" text-anchor="middle" fill="#222" >***</text>
<text x="113.5" y="476.95" font-size="10.8" text-anchor="middle" fill="#222" >***</text>
<text x="134.1" y="456.65" font-size="10.8" text-anchor="middle" fill="#222" >***</text>
<text x="156.4" y="445.75" font-size="10.8" text-anchor="middle" fill="#222" >***</text>
<text transform="translate(97.1 505.2) rotate(-45)" font-size="9.4" text-anchor="end" font-style="italic" fill="#1a1a1a" stroke="#1a1a1a" stroke-width="0.2">TEAD1</text>
<text transform="translate(117.3 505.2) rotate(-45)" font-size="9.4" text-anchor="end" font-style="italic" fill="#1a1a1a" stroke="#1a1a1a" stroke-width="0.2">TEAD2</text>
<text transform="translate(137.5 505.2) rotate(-45)" font-size="9.4" text-anchor="end" font-style="italic" fill="#1a1a1a" stroke="#1a1a1a" stroke-width="0.2">TEAD3</text>
<text transform="translate(158.3 505.2) rotate(-45)" font-size="9.4" text-anchor="end" font-style="italic" fill="#1a1a1a" stroke="#1a1a1a" stroke-width="0.2">TEAD4</text>
<text transform="translate(183.5 436) rotate(-90)" font-size="11.9" text-anchor="middle" fill="#1a1a1a" >mRNA levels</text>
<text transform="translate(197.1 435.4) rotate(-90)" font-size="11.9" text-anchor="middle" fill="#1a1a1a" >(fold of change)</text>
<path d="M216.9 373.1L216.9 495.9" stroke="#111" stroke-width="1" fill="none"/>
<path d="M216.9 393.8L215.3 393.8" stroke="#111" stroke-width="0.9" fill="none"/>
<text x="215.6" y="397.15" font-size="9.4" text-anchor="end" fill="#1a1a1a" >1.0</text>
<path d="M216.9 444.6L215.3 444.6" stroke="#111" stroke-width="0.9" fill="none"/>
<text x="215.6" y="447.95" font-size="9.4" text-anchor="end" fill="#1a1a1a" >0.5</text>
<path d="M216.9 495.4L215.3 495.4" stroke="#111" stroke-width="0.9" fill="none"/>
<text x="215.6" y="498.75" font-size="9.4" text-anchor="end" fill="#1a1a1a" >0.0</text>
<path d="M216.1 495.4L298.6 495.4" stroke="#111" stroke-width="1" fill="none"/>
<path d="M227.8 391.26V388.2M225.3 388.2H230.3" stroke="#111" stroke-width="0.95" fill="none"/>
<rect x="220.2" y="391.26" width="15.2" height="104.14" fill="#c3c306" stroke="#111" stroke-width="1.0"/>
<path d="M246.4 424.58V420.3M243.9 420.3H248.9" stroke="#111" stroke-width="0.95" fill="none"/>
<rect x="238.8" y="424.58" width="15.2" height="70.82" fill="#f1b77c" stroke="#111" stroke-width="1.0"/>
<path d="M268.6 393.8V390.8M266.1 390.8H271.1" stroke="#111" stroke-width="0.95" fill="none"/>
<rect x="261" y="393.8" width="15.2" height="101.6" fill="#c3c306" stroke="#111" stroke-width="1.0"/>
<path d="M287 427.94V426.9M284.5 426.9H289.5" stroke="#111" stroke-width="0.95" fill="none"/>
<rect x="279.3" y="427.94" width="15.4" height="67.46" fill="#f1b77c" stroke="#111" stroke-width="1.0"/>
<text x="246.4" y="421.25" font-size="11.6" text-anchor="middle" fill="#222" >***</text>
<text x="287" y="427.65" font-size="11.6" text-anchor="middle" fill="#222" >***</text>
<text transform="translate(255.7 506.4) rotate(-45)" font-size="9.4" text-anchor="end" font-style="italic" fill="#1a1a1a" stroke="#1a1a1a" stroke-width="0.2">CTGF</text>
<text transform="translate(295.9 506.2) rotate(-45)" font-size="9.4" text-anchor="end" font-style="italic" fill="#1a1a1a" stroke="#1a1a1a" stroke-width="0.2">CYR61</text>
<text transform="translate(313.7 436) rotate(-90)" font-size="11.9" text-anchor="middle" fill="#1a1a1a" >mRNA levels</text>
<text transform="translate(327.7 435.4) rotate(-90)" font-size="11.9" text-anchor="middle" fill="#1a1a1a" >(fold of change)</text>
<path d="M342.2 374.1L342.2 430.3" stroke="#111" stroke-width="1" fill="none"/>
<path d="M340.7 374.1L345 374.1" stroke="#111" stroke-width="0.9" fill="none"/>
<text x="341" y="377.4" font-size="9.4" text-anchor="end" fill="#1a1a1a" >14</text>
<path d="M340.7 402.2L345 402.2" stroke="#111" stroke-width="0.9" fill="none"/>
<text x="341" y="405.5" font-size="9.4" text-anchor="end" fill="#1a1a1a" >13</text>
<path d="M340.7 430.3L345 430.3" stroke="#111" stroke-width="0.9" fill="none"/>
<text x="341" y="433.6" font-size="9.4" text-anchor="end" fill="#1a1a1a" >12</text>
<path d="M342.2 439L342.2 496.3" stroke="#111" stroke-width="1" fill="none"/>
<path d="M340.7 439.2L345 439.2" stroke="#111" stroke-width="0.9" fill="none"/>
<path d="M340.7 447.65L345 447.65" stroke="#111" stroke-width="0.9" fill="none"/>
<text x="340.3" y="450.95" font-size="9.4" text-anchor="end" fill="#1a1a1a" >3</text>
<path d="M340.7 463.7L345 463.7" stroke="#111" stroke-width="0.9" fill="none"/>
<text x="340.3" y="467" font-size="9.4" text-anchor="end" fill="#1a1a1a" >2</text>
<path d="M340.7 479.75L345 479.75" stroke="#111" stroke-width="0.9" fill="none"/>
<text x="340.3" y="483.05" font-size="9.4" text-anchor="end" fill="#1a1a1a" >1</text>
<path d="M340.7 495.8L345 495.8" stroke="#111" stroke-width="0.9" fill="none"/>
<text x="340.3" y="499.1" font-size="9.4" text-anchor="end" fill="#1a1a1a" >0</text>
<path d="M341.7 495.8L423 495.8" stroke="#111" stroke-width="1" fill="none"/>
<path d="M347.5 479.75V478.8M345.7 478.8H349.3" stroke="#111" stroke-width="0.95" fill="none"/>
<rect x="343.8" y="479.75" width="7.4" height="16.05" fill="#c3c306" stroke="#111" stroke-width="1.0"/>
<path d="M356.9 444.44V443M355.1 443H358.7" stroke="#111" stroke-width="0.95" fill="none"/>
<rect x="353.2" y="444.44" width="7.4" height="51.36" fill="#f1b77c" stroke="#111" stroke-width="1.0"/>
<path d="M367.6 480.07V476.6M365.8 476.6H369.4" stroke="#111" stroke-width="0.95" fill="none"/>
<rect x="363.9" y="480.07" width="7.4" height="15.73" fill="#c3c306" stroke="#111" stroke-width="1.0"/>
<path d="M377 388.15V376.1M375.2 376.1H378.8" stroke="#111" stroke-width="0.95" fill="none"/>
<rect x="373.3" y="388.15" width="7.4" height="43.15" fill="#f1b77c" stroke="#111" stroke-width="1.0"/>
<rect x="373.3" y="438.4" width="7.4" height="57.4" fill="#f1b77c" stroke="#111" stroke-width="1.0"/>
<path d="M388 480.23V479.6M386.2 479.6H389.8" stroke="#111" stroke-width="0.95" fill="none"/>
<rect x="384.3" y="480.23" width="7.4" height="15.57" fill="#c3c306" stroke="#111" stroke-width="1.0"/>
<path d="M397.4 461.61V461M395.6 461H399.2" stroke="#111" stroke-width="0.95" fill="none"/>
<rect x="393.7" y="461.61" width="7.4" height="34.19" fill="#f1b77c" stroke="#111" stroke-width="1.0"/>
<path d="M408.1 480.07V478.6M406.3 478.6H409.9" stroke="#111" stroke-width="0.95" fill="none"/>
<rect x="404.4" y="480.07" width="7.4" height="15.73" fill="#c3c306" stroke="#111" stroke-width="1.0"/>
<path d="M417.5 466.91V464.5M415.7 464.5H419.3" stroke="#111" stroke-width="0.95" fill="none"/>
<rect x="413.8" y="466.91" width="7.4" height="28.89" fill="#f1b77c" stroke="#111" stroke-width="1.0"/>
<text x="357.8" y="444.15" font-size="11" text-anchor="middle" fill="#222" >***</text>
<text x="377.4" y="378.05" font-size="11" text-anchor="middle" fill="#222" >***</text>
<text x="398.4" y="462.05" font-size="11" text-anchor="middle" fill="#222" >***</text>
<text x="419.6" y="467.05" font-size="11" text-anchor="middle" fill="#222" >***</text>
<text transform="translate(361.1 505.2) rotate(-45)" font-size="9.4" text-anchor="end" font-style="italic" fill="#1a1a1a" stroke="#1a1a1a" stroke-width="0.2">SOX2</text>
<text transform="translate(381.1 505.2) rotate(-45)" font-size="9.4" text-anchor="end" font-style="italic" fill="#1a1a1a" stroke="#1a1a1a" stroke-width="0.2">ASCL1</text>
<text transform="translate(401.5 505.2) rotate(-45)" font-size="9.4" text-anchor="end" font-style="italic" fill="#1a1a1a" stroke="#1a1a1a" stroke-width="0.2">NEUROG2</text>
<text transform="translate(421.7 505.2) rotate(-45)" font-size="9.4" text-anchor="end" font-style="italic" fill="#1a1a1a" stroke="#1a1a1a" stroke-width="0.2">NEUROD1</text>
<rect x="399" y="374.5" width="13.4" height="6.6" fill="#c3c306" stroke="#111" stroke-width="0.9"/>
<rect x="399" y="392.2" width="13.4" height="6.5" fill="#f1b77c" stroke="#111" stroke-width="0.9"/>
<text x="419.8" y="382.6" font-size="11.6" fill="#1a1a1a"><tspan textLength="21" lengthAdjust="spacingAndGlyphs">TAZ</tspan><tspan dy="-5.4" font-size="5.6" textLength="11.4" lengthAdjust="spacingAndGlyphs">4SA</tspan><tspan dy="5.4" dx="3.2" textLength="30.8" lengthAdjust="spacingAndGlyphs">shCO</tspan></text>
<text x="419.8" y="400.1" font-size="11.6" fill="#1a1a1a"><tspan textLength="21" lengthAdjust="spacingAndGlyphs">TAZ</tspan><tspan dy="-5.4" font-size="5.6" textLength="11.4" lengthAdjust="spacingAndGlyphs">4SA</tspan><tspan dy="5.4" dx="3.2" textLength="44.4" lengthAdjust="spacingAndGlyphs">shTEAD</tspan></text>
</svg></body></html>
